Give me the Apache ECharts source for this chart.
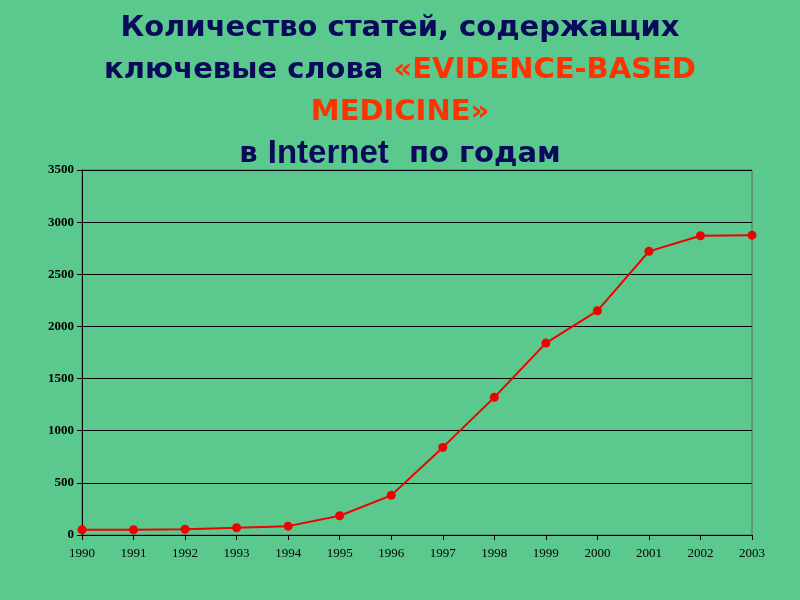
<!DOCTYPE html>
<html>
<head>
<meta charset="utf-8">
<script src="https://cdn.jsdelivr.net/npm/echarts@6/dist/echarts.min.js"></script>
<style>
  html, body { margin: 0; padding: 0; background: #5bc98d; }
  #main { width: 800px; height: 600px; }
</style>
</head>
<body>
<div id="main"></div>
<script>
var years = ['1990', '1991', '1992', '1993', '1994', '1995', '1996', '1997', '1998', '1999', '2000', '2001', '2002', '2003'];
var articles = [50, 50, 55, 70, 85, 185, 380, 840, 1320, 1840, 2150, 2720, 2870, 2875];

var chart = echarts.init(document.getElementById('main'));

var navy = '#0a0a5a';
var red = '#ff3300';

chart.setOption({
    backgroundColor: '#5bc98d',
    title: {
        left: 'center',
        top: 2,
        text: '{n|Количество статей, содержащих}\n{n|ключевые слова }{r|«EVIDENCE-BASED}\n{r|MEDICINE»}\n{n|в }{i|Internet}{n|  по годам}',
        textStyle: {
            rich: {
                n: { fontFamily: 'DejaVu Sans', fontWeight: 'bold', fontSize: 29, color: navy, lineHeight: 42 },
                r: { fontFamily: 'DejaVu Sans', fontWeight: 'bold', fontSize: 29, color: red, lineHeight: 42 },
                i: { fontFamily: 'Liberation Sans', fontSize: 33, color: navy, lineHeight: 42 }
            }
        }
    },
    grid: { left: 82, right: 48, top: 170, bottom: 65 },
    xAxis: {
        type: 'category',
        data: years,
        boundaryGap: false,
        axisLine: { lineStyle: { color: '#000', width: 1 } },
        axisTick: { show: true, alignWithLabel: true, lineStyle: { color: '#000' } },
        axisLabel: { color: '#000', fontFamily: 'Liberation Serif', fontSize: 13, margin: 12 },
        splitLine: { show: false }
    },
    yAxis: {
        type: 'value',
        min: 0,
        max: 3500,
        interval: 500,
        axisLine: { show: true, lineStyle: { color: '#000' } },
        axisTick: { show: true, lineStyle: { color: '#000' } },
        axisLabel: {
            color: '#000', fontFamily: 'Liberation Serif', fontSize: 13, fontWeight: 'bold',
            formatter: function (v) { return String(v); }
        },
        splitLine: { lineStyle: { color: '#000', width: 1 } }
    },
    series: [{
        type: 'line',
        data: articles,
        symbol: 'circle',
        symbolSize: 9,
        lineStyle: { color: '#ee0000', width: 2 },
        itemStyle: { color: '#ee0000' }
    }],
    graphic: [{
        type: 'rect',
        shape: { x: 82, y: 170, width: 670, height: 365 },
        style: { fill: 'none', stroke: '#666', lineWidth: 1 },
        silent: true
    }]
});
</script>
</body>
</html>
